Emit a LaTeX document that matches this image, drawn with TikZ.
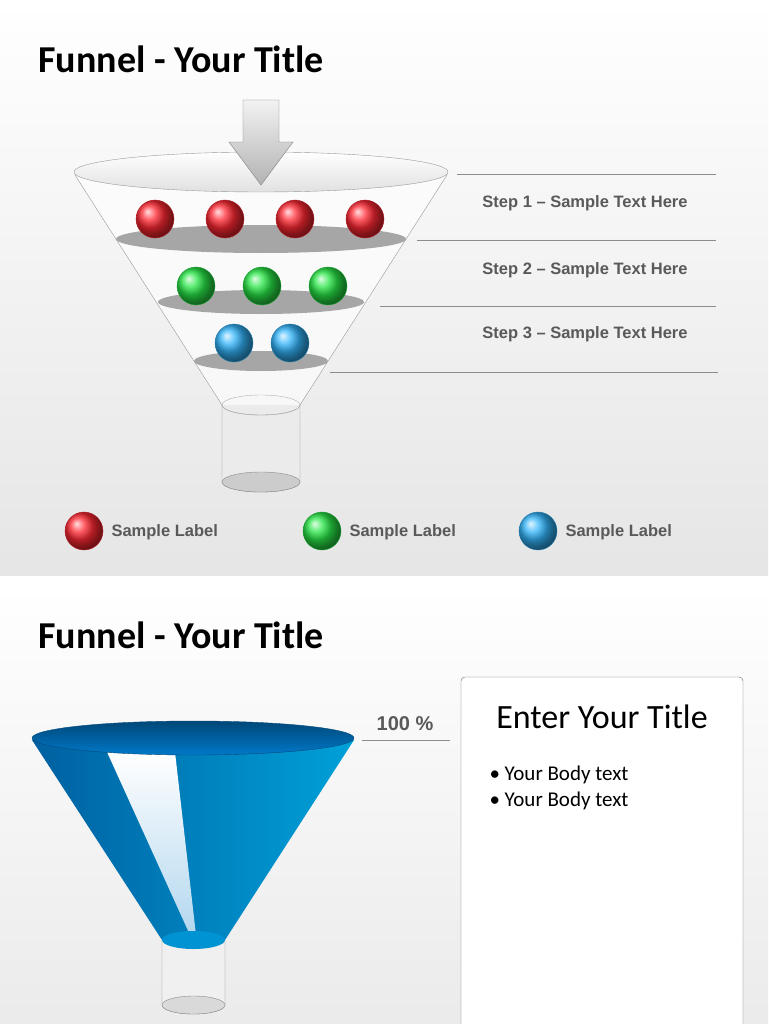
\documentclass[tikz,border=0pt]{standalone}
\usepackage{fontspec}
\setmainfont{Carlito}
\newfontfamily\lab{Liberation Sans}
\usetikzlibrary{shapes.geometric}
\definecolor{rd}{RGB}{255,40,50}
\definecolor{gn}{RGB}{40,230,70}
\definecolor{bl}{RGB}{50,180,250}
\definecolor{fb}{RGB}{0,120,200}
\tikzset{
 ball/.style={circle,minimum size=38pt,inner sep=0pt,draw=#1!70!black,shading=ball,ball color=#1},
 band/.style={fill=black!35},
 steptxt/.style={font=\lab\bfseries\fontsize{16.5pt}{19pt}\selectfont,text=black!65},
 sline/.style={draw=black!45,line width=1pt},
 ttl/.style={font=\bfseries\fontsize{38pt}{44pt}\selectfont,anchor=west}
}
\begin{document}
\begin{tikzpicture}[x=1pt,y=-1pt]
\useasboundingbox (0,0) rectangle (768,1024);
\shade[top color=white,bottom color=black!10] (0,0) rectangle (768,575);
\shade[top color=white,bottom color=black!8] (0,585) rectangle (768,1024);
\node[ttl] (t1) at (35,59) {Funnel - Your Title};
% funnel 1
\fill[black!8] (222,405) rectangle (300,482);
\draw[black!45] (222,405) -- (222,482) arc[start angle=180,end angle=360,x radius=39pt,y radius=10pt] -- (300,405);
\fill[black!20] (261,482) ellipse[x radius=39pt,y radius=10pt];
\draw[black!45] (261,482) ellipse[x radius=39pt,y radius=10pt];
\fill[white,opacity=0.6] (75,175) -- (222,405) -- (300,405) -- (447,175) -- cycle;
\draw[black!40] (75,175) -- (222,405) arc[start angle=180,end angle=360,x radius=39pt,y radius=10pt] -- (447,175);
\draw[black!30] (261,405) ellipse[x radius=39pt,y radius=10pt];
\fill[band] (261,239) ellipse[x radius=145pt,y radius=14pt];
\fill[band] (261,302) ellipse[x radius=103pt,y radius=12pt];
\fill[band] (261,361) ellipse[x radius=67pt,y radius=10pt];
\shade[top color=white,bottom color=black!12,draw=black!40] (261,172) ellipse[x radius=187pt,y radius=20pt];
\shade[top color=black!5,bottom color=black!30,draw=black!50] (243,100) -- (279,100) -- (279,142) -- (293,142) -- (261,185) -- (229,142) -- (243,142) -- cycle;
\foreach \x [count=\i] in {155,225,295,365} \node[ball=rd] (r\i) at (\x,219) {};
\foreach \x [count=\i] in {196,262,328} \node[ball=gn] (g\i) at (\x,286) {};
\foreach \x [count=\i] in {234,290} \node[ball=bl] (b\i) at (\x,343) {};
\draw[sline] (457,175) -- (716,175);
\draw[sline] (417,240) -- (716,240);
\draw[sline] (380,306) -- (716,306);
\draw[sline] (330,372) -- (718,372);
\node[steptxt] (s1) at (585,203) {Step 1 – Sample Text Here};
\node[steptxt] (s2) at (585,270) {Step 2 – Sample Text Here};
\node[steptxt] (s3) at (585,334) {Step 3 – Sample Text Here};
\node[ball=rd] (l1) at (84,531) {};
\node[ball=gn] (l2) at (322,531) {};
\node[ball=bl] (l3) at (538,531) {};
\node[steptxt,anchor=west] (lt1) at (108,532) {Sample Label};
\node[steptxt,anchor=west] (lt2) at (346,532) {Sample Label};
\node[steptxt,anchor=west] (lt3) at (562,532) {Sample Label};
% slide 2
\node[ttl] (t2) at (35,635) {Funnel - Your Title};
\fill[black!6] (162,940) rectangle (225,1005);
\draw[black!45] (162,940) -- (162,1005) arc[start angle=180,end angle=360,x radius=31.5pt,y radius=9pt] -- (225,940);
\fill[black!15] (193.5,1005) ellipse[x radius=31.5pt,y radius=9pt];
\draw[black!45] (193.5,1005) ellipse[x radius=31.5pt,y radius=9pt];
\shade[left color=fb!80!black,right color=fb!70!cyan] (32,740) -- (162,940) -- (225,940) -- (354,740) -- cycle;
\shade[top color=white,bottom color=white!70!fb] (107,752) -- (175,752) -- (196,935) -- (190,935) -- cycle;
\fill[fb!80!cyan] (193.5,940) ellipse[x radius=31.5pt,y radius=9pt];
\shade[top color=fb!60!black,bottom color=fb,draw=fb!60!black] (193,738) ellipse[x radius=161pt,y radius=17pt];
\node[steptxt,font=\lab\bfseries\fontsize{20pt}{23pt}\selectfont] (p) at (405,724) {100 \%};
\draw[sline] (362,740) -- (450,740);
\draw[black!60,rounded corners=4pt,fill=white] (461,677) rectangle (743,1030);
\node[font=\fontsize{34pt}{38pt}\selectfont] (et) at (602,717) {Enter Your Title};
\node[anchor=west,font=\fontsize{21pt}{24pt}\selectfont] (bt1) at (486,775) {• Your Body text};
\node[anchor=west,font=\fontsize{21pt}{24pt}\selectfont] (bt2) at (486,801) {• Your Body text};
\end{tikzpicture}
\end{document}
